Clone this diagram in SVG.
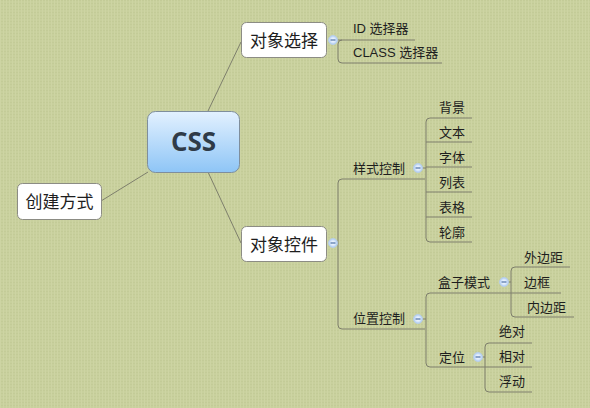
<svg xmlns="http://www.w3.org/2000/svg" width="590" height="408" viewBox="0 0 590 408">
<defs>
<linearGradient id="cssGrad" x1="0" y1="0" x2="0" y2="1">
<stop offset="0" stop-color="#e3f1ff"/>
<stop offset="1" stop-color="#8ec5f6"/>
</linearGradient>
<radialGradient id="btnGrad" cx="0.5" cy="0.5" r="0.5">
<stop offset="0" stop-color="#ffffff"/>
<stop offset="0.6" stop-color="#d6e6fb"/>
<stop offset="1" stop-color="#a9c6ee"/>
</radialGradient>
<pattern id="tex" width="3" height="3" patternUnits="userSpaceOnUse">
<rect width="3" height="3" fill="#c8d09d"/>
<rect width="3" height="1" fill="#c3cb97"/>
<rect width="1" height="3" fill="#cdd4a3"/>
</pattern>
</defs>
<style>
.bg{fill:url(#tex)}
.box{fill:#ffffff;stroke:#8c8c84;stroke-width:1}
.css{fill:url(#cssGrad);stroke:#7f8e9c;stroke-width:1}
.t{font-family:"Noto Sans CJK SC","Liberation Sans",sans-serif;fill:#1e1e1e}
.n{font-size:17px}
.s{font-size:13px}
.lat{font-family:"Liberation Sans","Noto Sans CJK SC",sans-serif}
.ln{fill:none;stroke:#7e7f6c;stroke-width:1}
.btn{fill:url(#btnGrad);stroke:#b8cfee;stroke-width:0.8}
.minus{stroke:#4a6fa5;stroke-width:1.2}
</style>
<rect class="bg" x="0" y="0" width="590" height="408"/>

<g id="connectors">
<line class="ln" x1="208" y1="111" x2="241" y2="42"/>
<line class="ln" x1="208" y1="172" x2="241" y2="243"/>
<line class="ln" x1="148" y1="172" x2="101" y2="201"/>
<!-- 对象选择 children -->
<path class="ln" d="M333 40 H342 M415 40 H342 Q338 40 338 44 V59 Q338 63 342 63 H442"/>
<!-- 对象控件 children -->
<path class="ln" d="M333 243 H338 M425 179 H342 Q338 179 338 183 V325 Q338 329 342 329 H425"/>
<!-- 样式控制 children -->
<path class="ln" d="M418 168 H426 M472 118 H430 Q426 118 426 122 V238 Q426 242 430 242 H472 M426 142 H472 M426 167 H472 M426 192 H472 M426 217 H472"/>
<!-- 位置控制 children -->
<path class="ln" d="M418 319 H426 M511 293 H430 Q426 293 426 297 V363 Q426 367 430 367 H485"/>
<!-- 盒子模式 children -->
<path class="ln" d="M504 282 H511 M570 267 H515 Q511 267 511 271 V313 Q511 317 515 317 H574 M511 293 H561"/>
<!-- 定位 children -->
<path class="ln" d="M478 357 H485 M532 343 H489 Q485 343 485 347 V388 Q485 392 489 392 H532 M485 367 H532"/>
</g>

<g id="node-css">
<rect class="css" x="147.5" y="111.5" width="92" height="61" rx="8"/>
<text x="193.5" y="151" text-anchor="middle" font-family="Open Sans,Liberation Sans,sans-serif" font-weight="bold" font-size="26" fill="#2f3b48">CSS</text>
</g>
<g id="node-create">
<rect class="box" x="17.5" y="183.5" width="84" height="36" rx="5"/>
<text class="t n" x="59.5" y="208" text-anchor="middle">创建方式</text>
</g>
<g id="node-select">
<rect class="box" x="241.5" y="22.5" width="85" height="35" rx="5"/>
<text class="t n" x="284" y="46.5" text-anchor="middle">对象选择</text>
</g>
<g id="node-control">
<rect class="box" x="241.5" y="226.5" width="85" height="35" rx="5"/>
<text class="t n" x="284" y="250.5" text-anchor="middle">对象控件</text>
</g>

<g id="node-id"><text class="t s lat" x="353" y="33">ID 选择器</text></g>
<g id="node-class"><text class="t s lat" x="353" y="57">CLASS 选择器</text></g>

<g id="node-style"><text class="t s" x="353" y="173">样式控制</text></g>
<g id="node-pos"><text class="t s" x="353" y="323">位置控制</text></g>

<g id="node-bg"><text class="t s" x="439" y="112">背景</text></g>
<g id="node-text"><text class="t s" x="439" y="137">文本</text></g>
<g id="node-font"><text class="t s" x="439" y="162">字体</text></g>
<g id="node-list"><text class="t s" x="439" y="187">列表</text></g>
<g id="node-table"><text class="t s" x="439" y="212">表格</text></g>
<g id="node-outline"><text class="t s" x="439" y="237">轮廓</text></g>

<g id="node-box"><text class="t s" x="438" y="287">盒子模式</text></g>
<g id="node-position"><text class="t s" x="439" y="362">定位</text></g>

<g id="node-margin"><text class="t s" x="524" y="262">外边距</text></g>
<g id="node-border"><text class="t s" x="524" y="287">边框</text></g>
<g id="node-padding"><text class="t s" x="527" y="312">内边距</text></g>

<g id="node-abs"><text class="t s" x="499" y="336">绝对</text></g>
<g id="node-rel"><text class="t s" x="499" y="361">相对</text></g>
<g id="node-float"><text class="t s" x="499" y="386">浮动</text></g>

<g id="buttons">
<g id="btn-select"><circle class="btn" cx="333" cy="40" r="4.5"/><line class="minus" x1="330.5" y1="40" x2="335.5" y2="40"/></g>
<g id="btn-control"><circle class="btn" cx="333" cy="243" r="4.5"/><line class="minus" x1="330.5" y1="243" x2="335.5" y2="243"/></g>
<g id="btn-style"><circle class="btn" cx="418" cy="168" r="4.5"/><line class="minus" x1="415.5" y1="168" x2="420.5" y2="168"/></g>
<g id="btn-pos"><circle class="btn" cx="418" cy="319" r="4.5"/><line class="minus" x1="415.5" y1="319" x2="420.5" y2="319"/></g>
<g id="btn-box"><circle class="btn" cx="504" cy="282" r="4.5"/><line class="minus" x1="501.5" y1="282" x2="506.5" y2="282"/></g>
<g id="btn-position"><circle class="btn" cx="478" cy="357" r="4.5"/><line class="minus" x1="475.5" y1="357" x2="480.5" y2="357"/></g>
</g>
</svg>
